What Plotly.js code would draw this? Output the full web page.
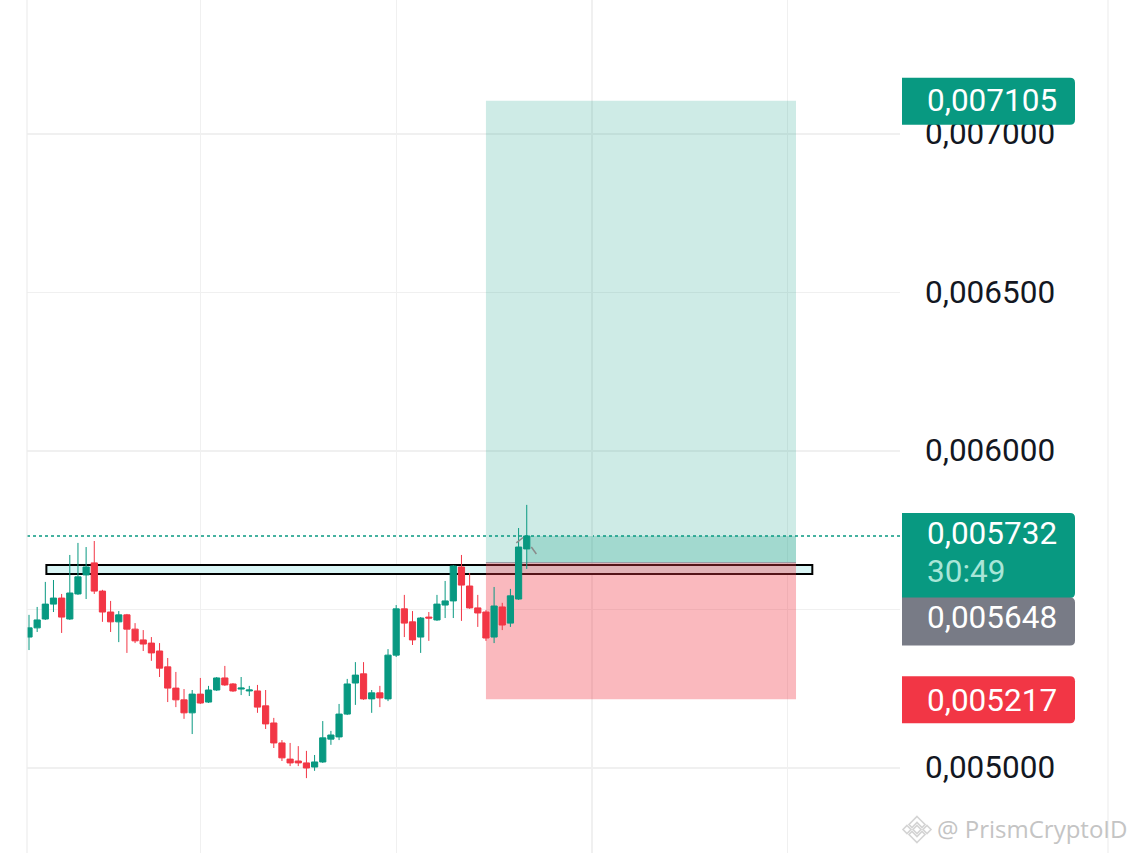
<!DOCTYPE html>
<html><head><meta charset="utf-8">
<script src="https://cdn.plot.ly/plotly-3.0.1.min.js"></script>
<style>html,body{margin:0;padding:0;background:#fff;overflow:hidden}#chart{width:1137px;height:853px}</style>
</head><body><div id="chart"></div>
<script>
// ---- data ----
const startTime = Date.UTC(2024, 4, 1, 3, 0, 0); // first hourly candle
const HOUR = 3600000;

const openP = [0.005413,0.005442,0.005470,0.005517,0.005536,0.005470,0.005549,0.005609,0.005647,0.005558,
0.005492,0.005461,0.005483,0.005438,0.005404,0.005394,0.005369,0.005319,0.005252,0.005215,
0.005174,0.005233,0.005208,0.005246,0.005284,0.005265,0.005249,0.005243,0.005243,0.005196,
0.005142,0.005079,0.005028,0.005022,0.005016,0.005003,0.005019,0.005091,0.005098,0.005170,
0.005268,0.005297,0.005218,0.005237,0.005218,0.005356,0.005502,0.005461,0.005413,0.005476,
0.005467,0.005514,0.005527,0.005634,0.005574,0.005505,0.005492,0.005413,0.005508,0.005457,
0.005533,0.005691];
const highP = [0.005483,0.005508,0.005587,0.005593,0.005549,0.005672,0.005710,0.005697,0.005716,0.005562,
0.005527,0.005495,0.005486,0.005457,0.005435,0.005413,0.005394,0.005347,0.005303,0.005249,
0.005246,0.005284,0.005259,0.005287,0.005322,0.005268,0.005287,0.005259,0.005262,0.005246,
0.005158,0.005088,0.005079,0.005069,0.005054,0.005041,0.005148,0.005117,0.005202,0.005281,
0.005334,0.005334,0.005246,0.005259,0.005375,0.005514,0.005546,0.005495,0.005476,0.005492,
0.005546,0.005590,0.005640,0.005672,0.005615,0.005546,0.005498,0.005571,0.005521,0.005565,
0.005757,0.005830];
const lowP = [0.005372,0.005429,0.005467,0.005492,0.005426,0.005467,0.005546,0.005533,0.005549,0.005461,
0.005429,0.005397,0.005363,0.005394,0.005369,0.005338,0.005287,0.005208,0.005192,0.005155,
0.005107,0.005202,0.005205,0.005243,0.005259,0.005240,0.005230,0.005227,0.005174,0.005123,
0.005063,0.005022,0.005006,0.005006,0.004968,0.004991,0.005016,0.005073,0.005088,0.005167,
0.005199,0.005215,0.005174,0.005192,0.005211,0.005350,0.005413,0.005388,0.005363,0.005401,
0.005464,0.005473,0.005473,0.005464,0.005502,0.005445,0.005401,0.005394,0.005435,0.005445,
0.005530,0.005628];
const closeP = [0.005442,0.005467,0.005517,0.005536,0.005476,0.005552,0.005603,0.005634,0.005558,0.005492,
0.005461,0.005483,0.005438,0.005401,0.005391,0.005363,0.005315,0.005252,0.005215,0.005174,
0.005233,0.005205,0.005246,0.005284,0.005262,0.005243,0.005252,0.005246,0.005192,0.005139,
0.005079,0.005032,0.005016,0.005016,0.005000,0.005019,0.005095,0.005104,0.005170,0.005265,
0.005293,0.005218,0.005237,0.005221,0.005356,0.005502,0.005457,0.005404,0.005473,0.005473,
0.005517,0.005527,0.005637,0.005577,0.005505,0.005489,0.005410,0.005511,0.005451,0.005543,
0.005697,0.005732];

const priceTicks = [0.005, 0.0055, 0.006, 0.0065, 0.007];
// the 0,005500 label is hidden behind the price labels in the reference
const priceTickLabels = ['0,005000', '', '0,006000', '0,006500', '0,007000'];
const targetPrice = 0.007105;
const entryPrice = 0.005648;
const stopPrice = 0.005217;
const lastPrice = 0.005732;
const countdownText = '30:49';
const zoneLow = 0.005612;
const zoneHigh = 0.005640;
const watermarkText = '@ PrismCryptoID';

// ---- layout helpers ----
const W = 1137, H = 853, ML = 27, MR = 237;
const plotW = W - ML - MR;
const times = openP.map((_, i) => startTime + i * HOUR);
const tAt = h => startTime + h * HOUR;
const yMin = 0.0047318, yMax = 0.0074227;
const pp = (yMax - yMin) / H;          // price per pixel
const px2paperX = p => (p - ML) / plotW;
const px2paperY = p => 1 - p / H;

const GREEN = '#089981', RED = '#F23645', GRAY = '#787B86';

const trace = {
  type: 'candlestick',
  x: times, open: openP, high: highP, low: lowP, close: closeP,
  increasing: {line: {color: GREEN, width: 1}, fillcolor: GREEN},
  decreasing: {line: {color: RED, width: 1}, fillcolor: RED},
  whiskerwidth: 0, hoverinfo: 'skip', showlegend: false
};

function labelPath(price, up, down) {
  const x0 = px2paperX(902), x1 = px2paperX(1075);
  const rx = 5 / plotW, ry = 5 * pp;
  const yT = price + up * pp, yB = price - down * pp;
  return `M ${x0},${yT} L ${x1 - rx},${yT} Q ${x1},${yT} ${x1},${yT - ry} L ${x1},${yB + ry} Q ${x1},${yB} ${x1 - rx},${yB} L ${x0},${yB} Z`;
}

// watermark logo (diamond mark) in pixel offsets around a centre
function polyPath(cx, cy, pts) {
  return pts.map((p, i) => (i ? 'L ' : 'M ') + px2paperX(cx + p[0]) + ',' + px2paperY(cy + p[1])).join(' ') + ' Z';
}
const LOGO_CX = 917, LOGO_CY = 829.5;
const logoParts = [
  [[0,-4],[4,0],[0,4],[-4,0]],
  [[-10,-4],[-6,0],[-10,4],[-14,0]],
  [[10,-4],[14,0],[10,4],[6,0]],
  [[0,-13],[8,-5],[5,-2],[0,-7],[-5,-2],[-8,-5]],
  [[0,13],[8,5],[5,2],[0,7],[-5,2],[-8,5]]
];

const shapes = [
  {type:'rect', xref:'x', yref:'y', x0:tAt(2.13), x1:tAt(96), y0:zoneLow, y1:zoneHigh,
   fillcolor:'#d9f5f5', line:{color:'#000', width:2}, layer:'between'},
  {type:'rect', xref:'x', yref:'y', x0:tAt(56), x1:tAt(94), y0:entryPrice, y1:targetPrice,
   fillcolor:'rgba(8,153,129,0.2)', line:{width:0}, layer:'between'},
  {type:'rect', xref:'x', yref:'y', x0:tAt(56), x1:tAt(94), y0:stopPrice, y1:entryPrice,
   fillcolor:'rgba(242,54,69,0.35)', line:{width:0}, layer:'between'},
  {type:'rect', xref:'x', yref:'y', x0:tAt(61), x1:tAt(94), y0:entryPrice, y1:lastPrice,
   fillcolor:'rgba(8,153,129,0.22)', line:{width:0}, layer:'between'},
  {type:'line', xref:'x', yref:'y', x0:tAt(56), x1:tAt(94), y0:entryPrice, y1:entryPrice,
   line:{color:'#9a9ca5', width:1.2}, layer:'between'},
  {type:'line', xref:'paper', yref:'y', x0:0, x1:1, y0:lastPrice, y1:lastPrice,
   line:{color:GREEN, width:1.5, dash:'dot'}, layer:'between'},
  {type:'line', xref:'paper', yref:'paper', x0:0, x1:0, y0:0, y1:1, line:{color:'#ededed', width:1.2}},
  {type:'line', xref:'paper', yref:'paper', x0:px2paperX(1108), x1:px2paperX(1108), y0:0, y1:1, line:{color:'#eeeeee', width:1.2}},
  {type:'line', xref:'x', yref:'y', x0:tAt(59.73), x1:tAt(60.55), y0:0.005710, y1:0.005727, line:{color:'#8a8a8a', width:1.5}, layer:'above'},
  {type:'line', xref:'x', yref:'y', x0:tAt(61.56), x1:tAt(62.18), y0:0.005697, y1:0.005675, line:{color:'#8a8a8a', width:1.5}, layer:'above'},
  {type:'path', xref:'paper', yref:'y', path:labelPath(targetPrice, 23, 24), fillcolor:GREEN, line:{width:0}, layer:'above'},
  {type:'path', xref:'paper', yref:'y', path:labelPath(lastPrice, 23, 62), fillcolor:GREEN, line:{width:0}, layer:'above'},
  {type:'path', xref:'paper', yref:'y', path:labelPath(entryPrice, -35, 83), fillcolor:GRAY, line:{width:0}, layer:'above'},
  {type:'path', xref:'paper', yref:'y', path:labelPath(stopPrice, 23, 24), fillcolor:RED, line:{width:0}, layer:'above'}
].concat(logoParts.map(pts => ({
  type:'path', xref:'paper', yref:'paper', path:polyPath(LOGO_CX, LOGO_CY, pts),
  fillcolor:'#ffffff', line:{color:'#d4d4d4', width:1.6}, layer:'above'
})));

const fmt = v => v.toFixed(6).replace('.', ',');
const LBL_FONT = {family:'Roboto', size:31.5, color:'#ffffff'};
const lx = px2paperX(925);
const annotations = [
  {xref:'paper', yref:'y', x:lx, y:targetPrice, yshift:0, text:fmt(targetPrice), showarrow:false, xanchor:'left', yanchor:'middle', font:LBL_FONT},
  {xref:'paper', yref:'y', x:lx, y:lastPrice, yshift:2, text:fmt(lastPrice), showarrow:false, xanchor:'left', yanchor:'middle', font:LBL_FONT},
  {xref:'paper', yref:'y', x:lx, y:lastPrice, yshift:-36, text:countdownText, showarrow:false, xanchor:'left', yanchor:'middle', font:{family:'Roboto', size:31.5, color:'#a9e6d8'}},
  {xref:'paper', yref:'y', x:lx, y:entryPrice, yshift:-55, text:fmt(entryPrice), showarrow:false, xanchor:'left', yanchor:'middle', font:LBL_FONT},
  {xref:'paper', yref:'y', x:lx, y:stopPrice, yshift:-1, text:fmt(stopPrice), showarrow:false, xanchor:'left', yanchor:'middle', font:LBL_FONT},
  {xref:'paper', yref:'paper', x:px2paperX(1129), y:px2paperY(828), text:watermarkText, showarrow:false, xanchor:'right', yanchor:'middle', font:{family:'Open Sans', size:24, color:'#c4c4c4'}}
];

const layout = {
  width: W, height: H,
  margin: {l: ML, r: MR, t: 0, b: 0, pad: 0},
  paper_bgcolor: '#ffffff', plot_bgcolor: '#ffffff',
  separators: ',.',
  showlegend: false,
  boxgap: 0.2, boxgroupgap: 0.05,
  xaxis: {
    type: 'date', range: [tAt(-0.245), tAt(106.745)],
    rangeslider: {visible: false},
    showticklabels: false, ticks: '',
    tick0: Date.UTC(2024, 4, 2), dtick: 86400000,
    showgrid: true, gridcolor: '#f0f0f0', gridwidth: 1.2,
    zeroline: false, showline: false, fixedrange: true
  },
  yaxis: {
    side: 'right', range: [yMin, yMax],
    tickmode: 'array', tickvals: priceTicks, ticktext: priceTickLabels,
    ticks: '', ticklabelstandoff: 24, ticklabelshift: -1,
    tickfont: {family: 'Roboto', size: 31.5, color: '#131722'},
    showgrid: true, gridcolor: '#f0f0f0', gridwidth: 1.2,
    zeroline: false, showline: false, fixedrange: true
  },
  shapes: shapes,
  annotations: annotations
};

Plotly.newPlot('chart', [trace], layout, {displayModeBar: false, staticPlot: true});
</script>
</body></html>
